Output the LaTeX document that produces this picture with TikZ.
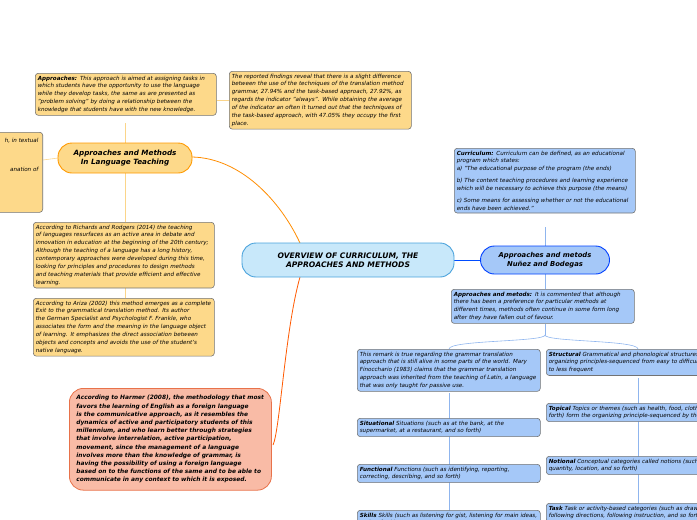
\documentclass[tikz,border=0pt]{standalone}
\usepackage{fontspec}
\setmainfont{DejaVu Sans}
\definecolor{ofill}{HTML}{FDD98A}
\definecolor{bfill}{HTML}{A5C8F8}
\definecolor{oline}{HTML}{FBD58A}
\definecolor{bline}{HTML}{8FB5EE}
\definecolor{salmon}{HTML}{F9BBA6}
\definecolor{hline}{HTML}{E8724A}
\definecolor{cline}{HTML}{4BA3DC}
\definecolor{cfill}{HTML}{C8E8FA}
\hyphenpenalty=10000
\exhyphenpenalty=10000
\begin{document}
\begin{tikzpicture}[x=1pt,y=-1pt,
  ob/.style={draw=black!55,fill=ofill,rounded corners=3pt,line width=0.6pt,anchor=north west,align=left,inner sep=2.5pt,font=\fontsize{5.6}{7.9}\selectfont\itshape},
  bb/.style={ob,fill=bfill},
  topic/.style={rounded corners=14pt,line width=0.9pt,minimum height=30pt,align=center,font=\fontsize{7.2}{9}\selectfont\bfseries\itshape},
  ol/.style={draw=oline,line width=0.6pt},
  bl/.style={draw=bline,line width=0.6pt}]
\useasboundingbox (0,0) rectangle (697,520);
\clip (0,0) rectangle (697,520);
% connectors first
\draw[ol] (125,123) -- (125,222);
\draw[ol] (125,288) -- (125,298);
\draw[ol] (43,160) -- (58,158);
\draw[ol] (217,100) -- (229,100);
\draw[draw=orange!90!yellow,line width=0.8pt] (192,157) .. controls (240,158) and (280,200) .. (300,243);
\draw[draw=orange!70!red,line width=0.8pt] (300,277) .. controls (285,330) and (280,430) .. (273,445);
\draw[draw=blue!70!cyan,line width=0.8pt] (454,260) -- (480,260);
\draw[bl] (545,227) -- (545,246);
\draw[bl] (545,274) -- (545,289);
\draw[bl] (545,324) -- (545,335);
\draw[bl] (449,349) .. controls (449,340) and (545,342) .. (545,335) .. controls (545,342) and (638,340) .. (638,349);
\draw[bl] (449,393) -- (449,520);
\draw[bl] (638,378) -- (638,520);
% orange nodes
\node[ob,text width=176pt] (appr) at (35,73) {\textbf{Approaches:} This approach is aimed at assigning tasks in which students have the opportunity to use the language while they develop tasks, the same as are presented as "problem solving" by doing a relationship between the knowledge that students have with the new knowledge.};
\node[ob,text width=177pt] (find) at (229,71) {The reported findings reveal that there is a slight difference between the use of the techniques of the translation method grammar, 27.94\% and the task-based approach, 27.92\%, as regards the indicator "always". While obtaining the average of the indicator an often it turned out that the techniques of the task-based approach, with 47.05\% they occupy the first place.};
\node[ob,minimum width=60pt,minimum height=80pt,anchor=north east] (clip) at (43,132) {};
\node[font=\fontsize{5.6}{7}\selectfont\itshape,anchor=north east] at (42,135) {h, in textual};
\node[font=\fontsize{5.6}{7}\selectfont\itshape,anchor=north east] at (42,164) {anation of};
\node[topic,draw=orange!80!yellow,fill=ofill,minimum width=134pt] (ml) at (125,158) {Approaches and Methods\\In Language Teaching};
\node[ob,text width=176pt] (rich) at (33,222) {According to Richards and Rodgers (2014) the teaching of languages resurfaces as an active area in debate and innovation in education at the beginning of the 20th century; Although the teaching of a language has a long history, contemporary approaches were developed during this time, looking for principles and procedures to design methods and teaching materials that provide efficient and effective learning.};
\node[ob,text width=176pt] (ariza) at (33,298) {According to Ariza (2002) this method emerges as a complete Exit to the grammatical translation method. Its author the German Specialist and Psychologist F. Frankle, who associates the form and the meaning in the language object of learning. It emphasizes the direct association between objects and concepts and avoids the use of the student's native language.};
\node[ob,fill=salmon,draw=hline,line width=0.8pt,rounded corners=14pt,text width=188pt,inner sep=7pt,font=\fontsize{5.9}{8.2}\selectfont\bfseries\itshape] (harm) at (69,388) {According to Harmer (2008), the methodology that most favors the learning of English as a foreign language is the communicative approach, as it resembles the dynamics of active and participatory students of this millennium, and who learn better through strategies that involve interrelation, active participation, movement, since the management of a language involves more than the knowledge of grammar, is having the possibility of using a foreign language based on to the functions of the same and to be able to communicate in any context to which it is exposed.};
% central
\node[topic,draw=cline,fill=cfill,minimum width=212pt,minimum height=34pt,font=\fontsize{7.6}{9.5}\selectfont\bfseries\itshape] (main) at (348,260) {OVERVIEW OF CURRICULUM, THE\\APPROACHES AND METHODS};
% blue
\node[topic,draw=blue!75!cyan,fill=bfill,minimum width=129pt,minimum height=28pt,font=\fontsize{6.8}{8.6}\selectfont\bfseries\itshape] (nun) at (545,260) {Approaches and metods\\Nuñez and Bodegas};
\node[bb,text width=176pt] (cur) at (454,148) {\textbf{Curriculum:} Curriculum can be defined, as an educational program which states:\\a) "The educational purpose of the program (the ends)\\[4pt]b) The content teaching procedures and learning experience which will be necessary to achieve this purpose (the means)\\[4pt]c) Some means for assessing whether or not the educational ends have been achieved."};
\node[bb,text width=178pt] (am) at (451,289) {\textbf{Approaches and metods:} It is commented that although there has been a preference for particular methods at different times, methods often continue in some form long after they have fallen out of favour.};
\node[bb,text width=178pt] (rem) at (357,349) {This remark is true regarding the grammar translation approach that is still alive in some parts of the world. Mary Finocchario (1983) claims that the grammar translation approach was inherited from the teaching of Latin, a language that was only taught for passive use.};
\node[bb,text width=178pt] (sit) at (357,418) {\textbf{Situational} Situations (such as at the bank, at the supermarket, at a restaurant, and so forth)};
\node[bb,text width=178pt] (fun) at (357,464) {\textbf{Functional} Functions (such as identifying, reporting, correcting, describing, and so forth)};
\node[bb,text width=178pt] (ski) at (357,510) {\textbf{Skills} Skills (such as listening for gist, listening for main ideas, and so forth)};
\node[bb,text width=190pt] (str) at (546,349) {\textbf{Structural} Grammatical and phonological structures are the organizing principles-sequenced from easy to difficult or frequent to less frequent};
\node[bb,text width=190pt] (top) at (546,403) {\textbf{Topical} Topics or themes (such as health, food, clothing, and so forth) form the organizing principle-sequenced by the likelihood};
\node[bb,text width=190pt] (not) at (546,456) {\textbf{Notional} Conceptual categories called notions (such as duration, quantity, location, and so forth)};
\node[bb,text width=190pt] (task) at (546,503) {\textbf{Task} Task or activity-based categories (such as drawing maps, following directions, following instruction, and so forth)};
\end{tikzpicture}
\end{document}
